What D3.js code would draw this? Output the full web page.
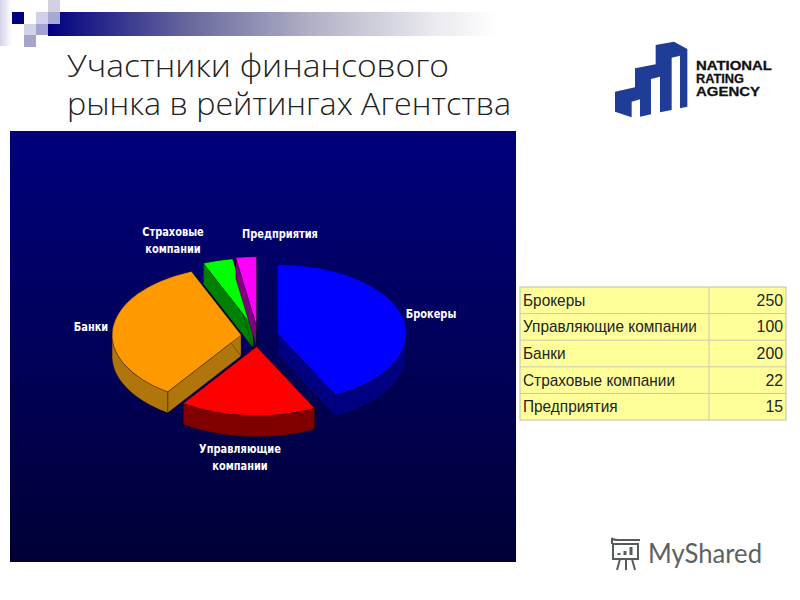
<!DOCTYPE html>
<html><head><meta charset="utf-8">
<script src="https://cdn.jsdelivr.net/npm/d3@7"></script>
<style>html,body{margin:0;background:#fff;overflow:hidden}svg{display:block}</style>
</head><body><svg id="c" width="800" height="600"></svg>
<script>
const titleLines = ["Участники финансового", "рынка в рейтингах Агентства"];
const categories = ["Брокеры", "Управляющие компании", "Банки", "Страховые компании", "Предприятия"];
const values = [250, 100, 200, 22, 15];
const topColors = ["#0000ff", "#ff0000", "#ff9900", "#00ff00", "#ff00ff"];
const sideColors = ["#000080", "#800000", "#b0760c", "#008000", "#800080"];
const explode = [20, 20, 17, 17.5, 19];
const drawOrder = [3, 4, 2, 0, 1];
const labelLines = [["Брокеры"], ["Управляющие", "компании"], ["Банки"], ["Страховые", "компании"], ["Предприятия"]];
const labelAnchors = [[431, 318], [240, 453], [91, 331], [173, 236], [280, 238]];
const logoWords = ["NATIONAL", "RATING", "AGENCY"];
const logoShape = [[30,170],[90,157],[90,100],[152,88],[152,30],[207,20],[247,42],[247,215],[225,220],[225,62],[200,68],[200,225],[165,232],[165,125],[138,132],[138,238],[105,245],[105,193],[80,200],[80,247],[30,230]];

const svg = d3.select("#c");
const defs = svg.append("defs");
function grad(id, stops, horizontal) {
  const g = defs.append("linearGradient").attr("id", id)
    .attr("x1", 0).attr("y1", 0).attr("x2", horizontal ? 1 : 0).attr("y2", horizontal ? 0 : 1);
  stops.forEach(([o, c]) => g.append("stop").attr("offset", o).attr("stop-color", c));
}
grad("bar", [[0, "#000080"], [0.32, "#6a6a9e"], [0.6, "#b4b4c8"], [0.85, "#e8e8ee"], [1, "#ffffff"]], true);
grad("side", [[0, "#d4d4ea"], [1, "#ffffff"]], true);
grad("bg", [[0, "#00007c"], [0.5, "#00005a"], [1, "#000036"]], false);

// header decoration
const squares = [
  [0, 0, 12, 46, "url(#side)"], [12, 12, 12, 12, "#000080"], [24, 24, 12, 11, "#d0d2e6"],
  [36, 12, 12, 12, "#cfcfe9"], [36, 24, 12, 11, "#a3a3d3"], [48, 0, 12, 12, "#d0d0e0"],
  [48, 12, 12, 12, "#a8a8d4"], [24, 35, 12, 12, "#a4a4cc"]];
svg.append("rect").attr("x", 48).attr("y", 12).attr("width", 450).attr("height", 24).attr("fill", "url(#bar)");
svg.selectAll(".sq").data(squares).join("rect").attr("class", "sq")
  .attr("x", d => d[0]).attr("y", d => d[1]).attr("width", d => d[2]).attr("height", d => d[3]).attr("fill", d => d[4]);

// title
svg.selectAll(".title").data(titleLines).join("text").attr("class", "title")
  .attr("x", 67).attr("y", (d, i) => 77 + i * 38)
  .attr("font-family", "'Open Sans'").attr("font-weight", 300).attr("font-size", 32).attr("fill", "#222")
  .attr("textLength", (d, i) => [382, 444][i]).attr("lengthAdjust", "spacingAndGlyphs").text(d => d);

// logo
const lx = d3.scaleLinear().domain([0, 175 * 3]).range([605, 780]);
const ly = d3.scaleLinear().domain([0, 85 * 3]).range([35, 120]);
svg.append("path").attr("fill", "#1f3d96")
  .attr("d", d3.line().x(d => lx(d[0])).y(d => ly(d[1])).curve(d3.curveLinearClosed)(logoShape));
svg.selectAll(".logoT").data(logoWords).join("text").attr("class", "logoT")
  .attr("x", 696).attr("y", (d, i) => 70 + i * 13)
  .attr("font-family", "'Liberation Sans'").attr("font-weight", 700).attr("font-size", 13).attr("fill", "#111")
  .attr("stroke", "#111").attr("stroke-width", 0.3)
  .attr("lengthAdjust", "spacingAndGlyphs")
  .attr("textLength", (d, i) => [76, 48, 64][i]).text(d => d);

// chart panel
svg.append("rect").attr("x", 10).attr("y", 131).attr("width", 506).attr("height", 431).attr("fill", "url(#bg)");

// 3D pie
const cx = 258, cy = 336, rx = 129, ry = 69, depth = 21;
const pie = d3.pie().sort(null).value(d => d)(values);
const pt = (a, dx, dy, k = 1) => [dx + rx * k * Math.sin(a), dy - ry * k * Math.cos(a)];
const line = d3.line().curve(d3.curveLinearClosed);
const arcShape = d3.arc().innerRadius(0).outerRadius(rx);
const chart = svg.append("g");
drawOrder.forEach(i => {
  const p = pie[i], mid = (p.startAngle + p.endAngle) / 2;
  const ox = cx + explode[i] * Math.sin(mid), oy = cy - explode[i] * (ry / rx) * Math.cos(mid);
  const g = chart.append("g").attr("stroke", "#000").attr("stroke-width", 0.5).attr("stroke-opacity", 0.6);
  [p.startAngle, p.endAngle].forEach(a => {
    const e = pt(a, ox, oy);
    g.append("path").attr("fill", sideColors[i])
      .attr("d", line([[ox, oy], e, [e[0], e[1] + depth], [ox, oy + depth]]));
  });
  const a0 = Math.max(p.startAngle, Math.PI / 2), a1 = Math.min(p.endAngle, 3 * Math.PI / 2);
  if (a1 > a0) {
    const t = d3.range(0, 61).map(j => a0 + (a1 - a0) * j / 60);
    g.append("path").attr("fill", sideColors[i]).attr("d", line(
      t.map(a => pt(a, ox, oy)).concat(t.slice().reverse().map(a => pt(a, ox, oy + depth)))));
  }
  g.append("path").attr("fill", topColors[i])
    .attr("transform", `translate(${ox},${oy}) scale(1,${ry / rx})`)
    .attr("vector-effect", "non-scaling-stroke")
    .attr("d", arcShape({startAngle: p.startAngle, endAngle: p.endAngle}));
});

// squeezes a text horizontally to the narrower face of the reference
function squeeze(sel, f) {
  sel.attr("lengthAdjust", "spacingAndGlyphs").attr("textLength", sel.node().getComputedTextLength() * f);
}

// pie labels
labelLines.forEach((ls, i) => ls.forEach((s, j) => {
  const t = svg.append("text").attr("x", labelAnchors[i][0]).attr("y", labelAnchors[i][1] + j * 17)
    .attr("text-anchor", "middle").attr("font-family", "'DejaVu Sans'")
    .attr("font-weight", 700).attr("font-size", 12).attr("fill", "#fff").text(s);
  squeeze(t, 0.82);
}));

// data table
const tx = d3.scaleOrdinal().domain(["name", "value"]).range([520, 709]);
const ty = d3.scaleBand().domain(categories).range([287, 420]);
svg.append("rect").attr("x", 520).attr("y", 287).attr("width", 266).attr("height", 133)
  .attr("fill", "#ffff99").attr("stroke", "#c8c8b4").attr("stroke-width", 1.2);
svg.append("line").attr("x1", tx("value")).attr("x2", tx("value")).attr("y1", 287).attr("y2", 420)
  .attr("stroke", "#c8c8b4").attr("stroke-width", 1);
categories.slice(1).forEach(c => svg.append("line").attr("x1", 520).attr("x2", 786)
  .attr("y1", ty(c)).attr("y2", ty(c)).attr("stroke", "#c8c8b4").attr("stroke-width", 1));
categories.forEach((c, i) => {
  const y = ty(c) + ty.bandwidth() / 2 + 5.5;
  const t = svg.append("text").attr("x", 523).attr("y", y).attr("font-family", "'Liberation Sans'")
    .attr("font-size", 17).attr("fill", "#222").text(c);
  squeeze(t, 0.905);
  const v = svg.append("text").attr("x", 783).attr("y", y).attr("text-anchor", "end").attr("font-family", "'Liberation Sans'")
    .attr("font-size", 17).attr("fill", "#222").text(values[i]);
  squeeze(v, 0.93);
});

// watermark
const wm = svg.append("g").attr("fill", "none").attr("stroke", "#555c5c").attr("stroke-width", 2);
wm.append("path").attr("d", "M612 544V538Q613 540 618 540H640M613 544H638V559H613ZM620 559L617 570M626 559V570M632 559L635 570");
wm.append("path").attr("stroke-width", 3).attr("d", "M619 555V553M625 555V551M631 555V547");
svg.append("text").attr("x", 648).attr("y", 563).attr("font-family", "Lato, 'Open Sans'").attr("font-size", 27)
  .attr("fill", "#5c6262").attr("textLength", 114).attr("lengthAdjust", "spacingAndGlyphs").text("MyShared");
</script></body></html>
